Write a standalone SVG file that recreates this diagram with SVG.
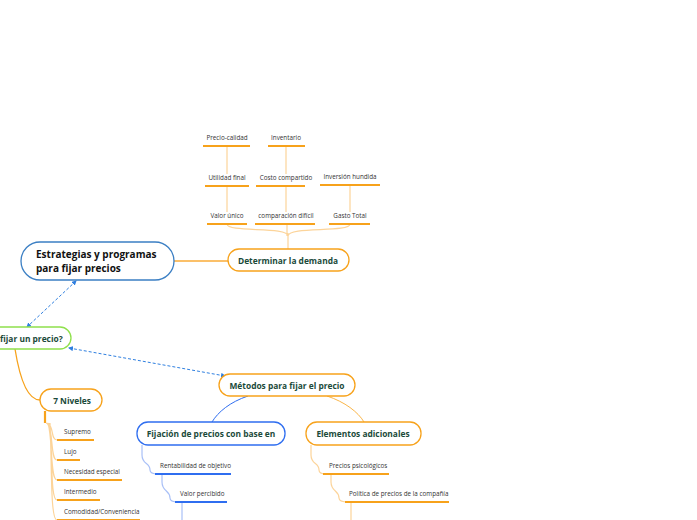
<svg xmlns="http://www.w3.org/2000/svg" width="697" height="520" viewBox="0 0 697 520">
<style>
text{font-family:"Open Sans","Noto Sans","Liberation Sans",sans-serif;fill:#333}
.n{font-weight:bold;font-size:8.4px;fill:#1b4a3a;text-anchor:middle}
.s{font-size:6.3px}
.c{text-anchor:middle}
.box{fill:#fff;stroke-width:1.3}
.o{stroke:#f7a21b}.b{stroke:#2f6ef0}.g{stroke:#8fe04c}.eb{stroke:#3b7fc4}
.ul{stroke-width:1.8;fill:none}
.lo{stroke:#fcd49a;fill:none;stroke-width:1.2}
.lb{stroke:#a9c0f7;fill:none;stroke-width:1.2}
</style>
<defs>
<marker id="ah" viewBox="0 0 10 10" refX="8" refY="5" markerWidth="5" markerHeight="5" orient="auto-start-reverse"><path d="M0,0L10,5L0,10z" fill="#2f7fe0"/></marker>
</defs>
<g id="connectors">
<path d="M174,261H228" stroke="#fbc069" stroke-width="2" fill="none"/>
<path class="lo" d="M227,146V174M227,186V212M286,146V174M286,186V212M350,185V212"/>
<path class="lo" d="M227,224C227,233 288,226 288,236M287,224V236M350,224C350,233 288,226 288,236M288,233V249"/>
<path d="M76,281L27,327" stroke="#2f7fe0" stroke-width="1" stroke-dasharray="3,2" fill="none" marker-start="url(#ah)" marker-end="url(#ah)"/>
<path d="M69,348L225,376" stroke="#2f7fe0" stroke-width="1" stroke-dasharray="3,2" fill="none" marker-start="url(#ah)" marker-end="url(#ah)"/>
<path d="M15,349C20,380 28,400 40,400" stroke="#f7a21b" stroke-width="1.3" fill="none"/>
<path d="M248,396C230,402 218,412 212,422" stroke="#2f6ef0" stroke-width="1" fill="none"/>
<path d="M327,396C345,402 358,412 364,422" stroke="#f7a21b" stroke-width="0.8" fill="none"/>
<path d="M45,411V423" stroke="#f7a21b" stroke-width="2.2"/>
<path class="lo" d="M46,423C55,425 50,440 57,440M47,423C54,430 50,460 57,460M48,423C53,440 50,480 57,480M49,423C53,450 50,500 57,500M50,423C52,460 50,520 57,520"/>
<path class="lb" d="M142,445V455C142,465 150,462 150,470C150,474 155,474 158,474M162,474V482C162,492 170,490 170,498C170,502 175,502 178,502M182,502V520"/>
<path class="lo" d="M311,445V455C311,465 319,462 319,470C319,474 323,474 326,474M331,474V482C331,492 339,490 339,498C339,502 345,502 348,502M351,502V520"/>
</g>
<g id="underlines">
<path class="ul o" d="M203,146H250M268,146H305M205,186H249M256,186H305M320,185H380M207,224H247M255,224H315M329,224H370"/>
<path class="ul o" d="M57,440H94M57,460H80M57,480H122M57,500H100M57,520H140"/>
<path class="ul b" d="M155,474H231M175,502H227"/>
<path class="ul o" d="M323,474H389M345,502H449"/>
</g>
<g id="leaves">
<text class="s c" x="227" y="140">Precio-calidad</text>
<text class="s c" x="286" y="140">Inventario</text>
<text class="s c" x="227" y="180">Utilidad final</text>
<text class="s c" x="286" y="180">Costo compartido</text>
<text class="s c" x="350" y="179">Inversión hundida</text>
<text class="s c" x="227" y="218">Valor único</text>
<text class="s c" x="286" y="218">comparación difícil</text>
<text class="s c" x="350" y="218">Gasto Total</text>
<text class="s" x="64" y="434">Supremo</text>
<text class="s" x="64" y="454">Lujo</text>
<text class="s" x="64" y="474">Necesidad especial</text>
<text class="s" x="64" y="494">Intermedio</text>
<text class="s" x="64" y="514">Comodidad/Conveniencia</text>
<text class="s" x="160" y="468">Rentabilidad de objetivo</text>
<text class="s" x="180" y="496">Valor percibido</text>
<text class="s" x="329" y="468">Precios psicológicos</text>
<text class="s" x="349" y="496">Política de precios de la compañía</text>
</g>
<g id="estrategias"><rect class="box eb" x="21" y="242" width="153" height="38" rx="19"/>
<text x="36" y="258" style="font-weight:bold;font-size:10px;fill:#111">Estrategias y programas</text>
<text x="36" y="272" style="font-weight:bold;font-size:10px;fill:#111">para fijar precios</text></g>
<g id="determinar"><rect class="box o" x="228" y="249" width="121" height="22" rx="11"/><text class="n" x="288" y="264">Determinar la demanda</text></g>
<g id="fijar"><rect class="box g" x="-30" y="327" width="101" height="22" rx="11"/><text class="n" x="0" y="342" style="text-anchor:start">fijar un precio?</text></g>
<g id="metodos"><rect class="box o" x="219" y="374" width="136" height="22" rx="11"/><text class="n" x="287" y="389">Métodos para fijar el precio</text></g>
<g id="niveles"><rect class="box o" x="40" y="389" width="62" height="22" rx="11"/><text class="n" x="72" y="404">7 Niveles</text></g>
<g id="fijacion"><rect class="box b" x="137" y="422" width="148" height="23" rx="11"/><text class="n" x="211" y="437">Fijación de precios con base en</text></g>
<g id="elementos"><rect class="box o" x="306" y="422" width="115" height="23" rx="11"/><text class="n" x="363" y="437">Elementos adicionales</text></g>
</svg>
